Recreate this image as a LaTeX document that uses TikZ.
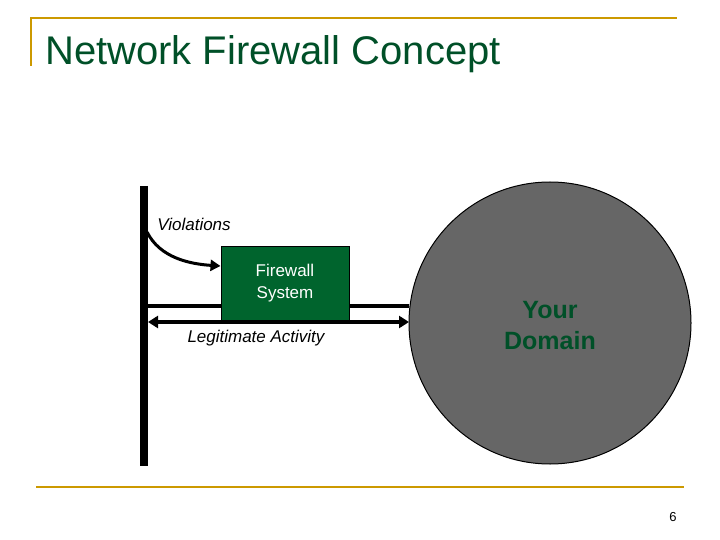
\documentclass[tikz,border=0pt]{standalone}
\usepackage{fontspec}
\setmainfont{Liberation Sans}
\usetikzlibrary{arrows.meta}
\definecolor{gold}{RGB}{204,153,0}
\definecolor{titlegreen}{RGB}{0,80,40}
\definecolor{boxgreen}{RGB}{0,100,45}
\definecolor{domaingray}{RGB}{102,102,102}
\tikzset{
  rule/.style={gold, line width=2.5pt},
  flow/.style={line width=4pt},
  lbl/.style={font=\fontsize{17}{19}\selectfont\itshape},
}
\begin{document}
\begin{tikzpicture}[x=1pt,y=-1pt]
  \useasboundingbox (0,0) rectangle (720,540);
  % frame lines
  \coordinate (tl) at (31,66);
  \coordinate (tc) at (31,18);
  \coordinate (tr) at (677,18);
  \coordinate (bl) at (36,487);
  \coordinate (br) at (684,487);
  \draw[rule] (tl) -- (tc) -- (tr);
  \draw[rule] (bl) -- (br);
  \node[anchor=base west, text=titlegreen, font=\fontsize{40}{44}\selectfont, inner sep=0] (title) at (45,65) {Network Firewall Concept};
  % domain
  \node[circle, draw=black, line width=1pt, fill=domaingray, minimum size=282pt, inner sep=0] (dom) at (550,323) {};
  \node[text=titlegreen, font=\fontsize{25}{31}\selectfont\bfseries, align=center] (domtext) at (550,326) {Your\\Domain};
  % wall
  \coordinate (wtop) at (144,186);
  \coordinate (wbot) at (144,466);
  \draw[line width=8pt] (wtop) -- (wbot);
  \coordinate (lin) at (144,306);
  \coordinate (lout) at (409,306);
  \draw[flow] (lin) -- (lout);
  \node[draw=black, line width=1pt, fill=boxgreen, text=white, minimum width=128pt, minimum height=74pt, align=center, font=\fontsize{17}{22}\selectfont] (fw) at (285,283) {Firewall\\System};
  \coordinate (ain) at (148,322);
  \coordinate (aout) at (409,322);
  \draw[flow, {Triangle[length=10pt,width=12pt]}-{Triangle[length=10pt,width=12pt]}] (ain) -- (aout);
  \coordinate (vstart) at (147,232);
  \draw[line width=3pt, -{Triangle[length=10pt,width=11pt]}] (vstart) .. controls (160,258) and (190,264) .. (fw.west |- 0,266);
  \node[lbl] (viol) at (194,224) {Violations};
  \node[lbl] (legit) at (256,338) {Legitimate Activity};
  \node[font=\fontsize{13}{15}\selectfont] (page) at (673,517) {6};
\end{tikzpicture}
\end{document}
